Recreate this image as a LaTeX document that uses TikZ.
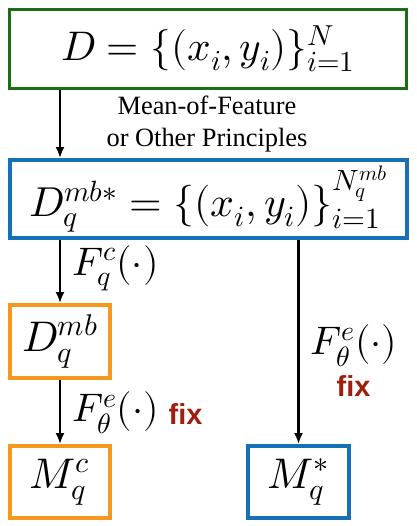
\documentclass[tikz,border=0pt]{standalone}
\usepackage{fontspec}
\usepackage{unicode-math}
\setmathfont{Latin Modern Math}
\newfontfamily\serifF{Liberation Serif}
\newfontfamily\sansF{Liberation Sans}
\usetikzlibrary{arrows.meta}
\definecolor{bgreen}{RGB}{28,110,22}
\definecolor{bblue}{RGB}{22,112,182}
\definecolor{borange}{RGB}{247,152,30}
\definecolor{fixred}{RGB}{160,30,12}
\tikzset{
  box/.style={draw, line width=3.8bp, inner sep=0pt, fill=white},
  arr/.style={-{Latex[length=11bp,width=9bp]}, line width=2.4bp},
  mathlbl/.style={font=\fontsize{40}{46}\selectfont, inner sep=0pt},
  fixlbl/.style={font=\sansF\bfseries\fontsize{29}{34}\selectfont, text=fixred, inner sep=0pt},
}
\begin{document}
\begin{tikzpicture}[x=1bp,y=-1bp]
\useasboundingbox (0,0) rectangle (416,526);
\node[box, draw=bgreen, minimum width=397bp, minimum height=79bp, font=\fontsize{41.5}{46}\selectfont] (top) at (208,49) {$D=\{(x_i,y_i)\}_{i=1}^N$};
\node[box, draw=bblue, minimum width=397bp, minimum height=78bp, font=\fontsize{42}{48}\selectfont] (mid) at (208.5,199) {$D_q^{mb*}=\{(x_i,y_i)\}_{i=1}^{N_q^{mb}}$};
\node[box, draw=borange, minimum width=100bp, minimum height=73bp, font=\fontsize{43}{48}\selectfont] (dq) at (60,341.5) {$D_q^{mb}$};
\node[box, draw=borange, minimum width=100bp, minimum height=72bp, font=\fontsize{43}{48}\selectfont] (mc) at (60,482) {$M_q^c$};
\node[box, draw=bblue, minimum width=101bp, minimum height=72bp, font=\fontsize{43}{48}\selectfont] (ms) at (298.5,482) {$M_q^*$};
\draw[arr] (top.south -| dq.north) -- (mid.north -| dq.north);
\draw[arr] (mid.south -| dq.north) -- (dq.north);
\draw[arr] (dq.south) -- (mc.north);
\draw[arr] (mid.south -| ms.north) -- (ms.north);
\node[font=\serifF\fontsize{26.5}{32}\selectfont, align=center, inner sep=0pt] (mof) at (207,124) {Mean-of-Feature\\or Other Principles};
\node[mathlbl, anchor=west] (fqc) at (72,268) {$F_q^c(\cdot)$};
\node[mathlbl, anchor=west] (fte1) at (72,413) {$F_\theta^e(\cdot)$};
\node[fixlbl] (fix1) at (185.5,414) {fix};
\node[mathlbl] (fte2) at (354,346) {$F_\theta^e(\cdot)$};
\node[fixlbl] (fix2) at (353.5,386) {fix};
\end{tikzpicture}
\end{document}
